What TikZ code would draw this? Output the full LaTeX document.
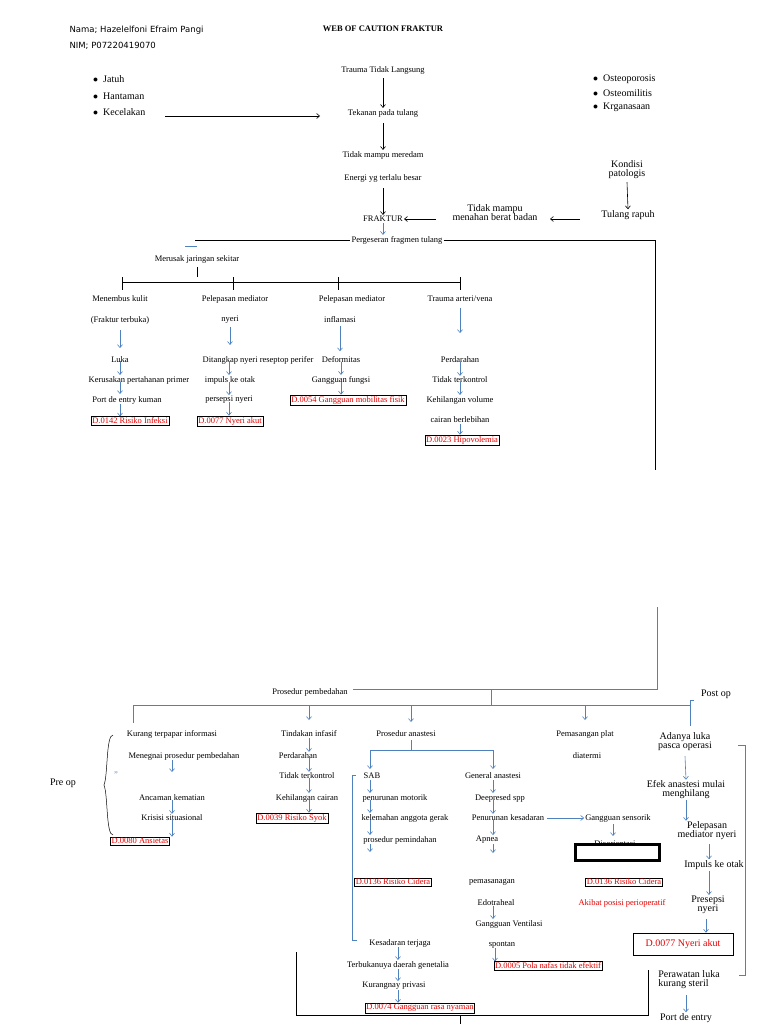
\documentclass[tikz,border=0pt]{standalone}
\usepackage{fontspec}
\setmainfont{Liberation Serif}
\newfontfamily\hdr{DejaVu Sans}
\usetikzlibrary{arrows.meta,decorations.pathreplacing}
\definecolor{bblue}{RGB}{79,129,189}
\definecolor{rred}{RGB}{230,0,0}
\tikzset{
 t/.style={font=\fontsize{8.5}{9}\selectfont, inner sep=1pt, align=center},
 tb/.style={font=\fontsize{10}{11}\selectfont, inner sep=1pt, align=center},
 rd/.style={t, text=rred},
 bx/.style={t, text=rred, draw=black, line width=0.6pt, inner sep=1.2pt},
 ba/.style={-{Straight Barb[length=3pt,width=5pt]}, draw=bblue, line width=0.6pt},
 ka/.style={-{Straight Barb[length=3pt,width=5pt]}, draw=black, line width=0.6pt},
 kl/.style={draw=black, line width=0.6pt},
 bl/.style={draw=bblue, line width=0.7pt},
}
\begin{document}
\begin{tikzpicture}[x=1pt,y=-1pt]
\useasboundingbox (0,0) rectangle (768,1024);
\fill[white] (0,0) rectangle (768,1024);
\node[anchor=west, font=\hdr\fontsize{8.5}{9}\selectfont] (nama) at (66,30) {Nama; Hazelelfoni Efraim Pangi};
\node[anchor=west, font=\hdr\fontsize{8.5}{9}\selectfont] (nim) at (66,46) {NIM; P07220419070};
\node[font=\bfseries\fontsize{8.5}{9}\selectfont] (title) at (383,29) {WEB OF CAUTION FRAKTUR};
\node[anchor=west, tb] (l1) at (92,79) {$\bullet$\ \ Jatuh};
\node[anchor=west, tb] (l2) at (92,96) {$\bullet$\ \ Hantaman};
\node[anchor=west, tb] (l3) at (92,112) {$\bullet$\ \ Kecelakan};
\coordinate (k0) at (165,116);
\coordinate (k1e) at (320,116);
\node[anchor=west, tb] (o1) at (592,79) {$\bullet$\ \ Osteoporosis};
\node[anchor=west, tb] (o2) at (592,93) {$\bullet$\ \ Osteomilitis};
\node[anchor=west, tb] (o3) at (592,107) {$\bullet$\ \ Krganasaan};
\node[t] (ttl) at (383,70) {Trauma Tidak Langsung};
\node[t] (tpt) at (383,113) {Tekanan pada tulang};
\node[t] (tmm) at (383,155) {Tidak mampu meredam};
\node[t] (eyb) at (383,178) {Energi yg terlalu besar};
\node[t] (frk) at (383,219) {FRAKTUR};
\node[tb] (tmb) at (495,213) {Tidak mampu\\[-2pt]menahan berat badan};
\node[tb] (kp) at (627,170) {Kondisi\\[-2pt]patologis};
\node[tb] (tr) at (628,215) {Tulang rapuh};
\node[t] (pft) at (397,240) {Pergeseran fragmen tulang};
\draw[ka] (k0) -- (k1e);
\draw[ka] (ttl.south) ++(0,3) -- (tpt.north);
\draw[ka] (tpt.south) ++(0,5) -- (tmm.north);
\draw[ka] (eyb.south) ++(0,5) -- (frk.north);
\draw[ka] (436,219) -- (frk.east);
\draw[ka] (580,219) -- (550,219);
\draw[ka] (kp.south) ++(0,2) -- (tr.north);
\draw[ba] (frk.south -| 383,0) -- (pft.north -| 383,0);
\coordinate (pr) at (655,240);
\coordinate (pr2) at (655,470);
\draw[kl] (195,240) -- (pft.west);
\draw[kl] (pft.east) -- (pr) -- (pr2);
\draw[bl] (185,246) -- (197,246);
\node[t] (mjs) at (197,259) {Merusak jaringan sekitar};
\coordinate (h0) at (197,277);
\draw[kl] (mjs.south) ++(0,3) -- (h0);
\draw[kl] (122,282) -- (460,282);
\foreach \x in {122,233,338,460} \draw[kl] (\x,277) -- (\x,290);
\node[t] (m1) at (120,299) {Menembus kulit};
\node[t] (m2) at (120,320) {(Fraktur terbuka)};
\node[t] (m3) at (120,360) {Luka};
\node[t] (m4) at (139,380) {Kerusakan pertahanan  primer};
\node[t] (m5) at (127,400) {Port de entry kuman};
\node[bx] (m6) at (130,421) {D.0142 Risiko Infeksi};
\draw[ba] (m2.south) ++(0,5) -- ++(0,18);
\draw[ba] (m3.south) ++(0,-3) -- (m3.south |- m4.north);
\draw[ba] (m4.south) ++(-19,-3) -- (120,394);
\draw[ba] (120,404) -- (m6.north -| 120,0);
\node[t] (n1) at (235,299) {Pelepasan mediator};
\node[t] (n2) at (230,320) {nyeri};
\node[t] (n3) at (258,360) {Ditangkap nyeri reseptop perifer};
\node[t] (n4) at (230,380) {impuls ke otak};
\node[t] (n5) at (229,400) {persepsi nyeri};
\node[bx] (n6) at (230,421) {D.0077 Nyeri akut};
\draw[ba] (n2.south) ++(0,2) -- ++(0,18);
\draw[ba] (229,362) -- (n4.north -| 229,0);
\draw[ba] (229,382) -- (n5.north -| 229,0);
\draw[ba] (229,402) -- (n6.north -| 229,0);
\node[t] (p1) at (352,299) {Pelepasan mediator};
\node[t] (p2) at (340,320) {inflamasi};
\node[t] (p3) at (341,360) {Deformitas};
\node[t] (p4) at (341,380) {Gangguan fungsi};
\node[bx] (p5) at (348,400) {D.0054  Gangguan mobilitas fisik};
\draw[ba] (p2.south) ++(0,2) -- ++(0,25);
\draw[ba] (341,362) -- (p4.north -| 341,0);
\draw[ba] (341,382) -- (p5.north -| 341,0);
\node[t] (q1) at (460,299) {Trauma arteri/vena};
\node[t] (q2) at (460,360) {Perdarahan};
\node[t] (q3) at (460,380) {Tidak terkontrol};
\node[t] (q4) at (460,400) {Kehilangan volume};
\node[t] (q5) at (460,420) {cairan berlebihan};
\node[bx] (q6) at (462,440) {D.0023 Hipovolemia};
\draw[ba] (q1.south) ++(0,5) -- ++(0,25);
\draw[ba] (460,362) -- (q3.north -| 460,0);
\draw[ba] (460,382) -- (q4.north -| 460,0);
\draw[ba] (460,424) -- (q6.north -| 460,0);
\node[t] (pp) at (310,692) {Prosedur pembedahan};
\coordinate (c1) at (657,607);
\draw[bl] (pp.east) ++(4,-3) -- (657,689) -- (c1);
\draw[bl] (491,689) -- (491,705);
\draw[bl] (133,705) -- (690,705);
\node[tb] (po) at (716,694) {Post op};
\draw[bl] (694,700) -- (690,700) -- (690,726);
\draw[bl] (133,705) -- (133,723);
\draw[ba] (309,705) -- (309,720);
\draw[ba] (411,705) -- (411,722);
\draw[ba] (585,705) -- (585,720);
\node[tb] (pre) at (63,783) {Pre op};
\draw[line width=0.5pt] (113,735) .. controls (106,735) and (108,775) .. (104,785) .. controls (108,795) and (106,835) .. (113,835);
\node[t, text=bblue] (tick) at (116,775) {''};
\node[t] (a1) at (172,734) {Kurang terpapar informasi};
\node[t] (a2) at (184,756) {Menegnai prosedur pembedahan};
\node[t] (a3) at (172,798) {Ancaman kematian};
\node[t] (a4) at (172,818) {Krisisi situasional};
\node[bx] (a5) at (140,841) {D.0080 Ansietas};
\draw[ba] (172,760) -- (172,772);
\draw[ba] (172,800) -- (a4.north -| 172,0);
\draw[ba] (172,820) -- (a5.north -| 172,0);
\node[t] (b1) at (309,734) {Tindakan infasif};
\node[t] (b2) at (298,756) {Perdarahan};
\node[t] (b3) at (307,776) {Tidak terkontrol};
\node[t] (b4) at (307,798) {Kehilangan cairan};
\node[bx] (b5) at (292,818) {D.0039 Risiko Syok};
\draw[ba] (309,738) -- (b2.north -| 309,0);
\draw[ba] (309,758) -- (b3.north -| 309,0);
\draw[ba] (309,778) -- (b4.north -| 309,0);
\draw[ba] (309,800) -- (b5.north -| 309,0);
\node[t] (c0) at (406,734) {Prosedur anastesi};
\draw[bl] (411,740) -- (411,750);
\draw[bl] (370,750) -- (493,750);
\draw[ba] (370,750) -- (370,769);
\draw[ba] (493,750) -- (493,769);
\draw[bl] (356,775) -- (352,775) -- (352,940) -- (357,940);
\node[t] (s1) at (372,776) {SAB};
\node[t] (s2) at (395,798) {penurunan motorik};
\node[t] (s3) at (405,818) {kelemahan anggota gerak};
\node[t] (s4) at (400,840) {prosedur pemindahan};
\node[bx] (s5) at (393,882) {D.0136 Risiko Cidera};
\draw[ba] (370,780) -- (s2.north -| 370,0);
\draw[ba] (370,800) -- (s3.north -| 370,0);
\draw[ba] (370,820) -- (s4.north -| 370,0);
\draw[ba] (370,844) -- (370,852);
\node[t] (g1) at (493,776) {General anastesi};
\node[t] (g2) at (500,798) {Deepresed spp};
\node[t] (g3) at (508,818) {Penurunan kesadaran};
\node[t] (g4) at (487,840) {Apnea};
\node[t] (g5) at (492,882) {pemasanagan};
\node[t] (g6) at (496,903) {Edotraheal};
\node[t] (g7) at (509,924) {Gangguan Ventilasi};
\node[t] (g8) at (502,945) {spontan};
\node[bx] (g9) at (548,966) {D.0005 Pola nafas tidak efektif};
\draw[ba] (493,780) -- (g2.north -| 493,0);
\draw[ba] (493,800) -- (g3.north -| 493,0);
\draw[ba] (493,820) -- (g4.north -| 493,0);
\draw[ba] (493,844) -- (493,853);
\draw[ba] (493,906) -- (g7.north -| 493,0);
\draw[ba] (495,948) -- (g9.north -| 495,0);
\node[t] (gs) at (618,818) {Gangguan sensorik};
\draw[ba] (g3.east) ++(2,0) -- (gs.west);
\node[t] (ds) at (615,844) {Disorientasi};
\draw[ba] (613,824) -- (613,836);
\node[draw=black, fill=white, line width=3pt, minimum width=84pt, minimum height=16pt] (blk) at (617,852) {};
\node[bx] (x1) at (624,882) {D.0136 Risiko Cidera};
\node[rd] (x2) at (622,903) {Akibat posisi perioperatif};
\node[t] (e1) at (585,734) {Pemasangan plat};
\node[t] (e2) at (587,756) {diatermi};
\node[tb] (f1) at (685,742) {Adanya luka\\[-2pt]pasca operasi};
\node[tb] (f2) at (686,790) {Efek anastesi mulai\\[-2pt]menghilang};
\node[tb] (f3) at (707,831) {Pelepasan\\[-2pt]mediator nyeri};
\node[tb] (f4) at (714,865) {Impuls ke otak};
\node[tb] (f5) at (708,905) {Presepsi\\[-2pt]nyeri};
\node[tb, text=rred, draw=black, line width=0.6pt, minimum width=100pt, minimum height=22pt] (f6) at (683,944) {D.0077 Nyeri akut};
\node[tb, align=left] (f7) at (689,980) {Perawatan luka\\[-2pt]kurang steril};
\node[tb] (f8) at (686,1018) {Port de entry};
\draw[ba] (f1.south) ++(0,4) -- (f2.north);
\draw[ba] (f2.south) -- (f3.north -| 686,0);
\draw[ba] (709,844) -- (f4.north -| 709,0);
\draw[ba] (709,871) -- (f5.north -| 709,0);
\draw[ba] (706,919) -- (f6.north -| 706,0);
\draw[ba] (686,995) -- (f8.north);
\draw[bl] (738,745) -- (745,745) -- (745,975) -- (739,975);
\node[t] (k1) at (400,943) {Kesadaran terjaga};
\node[t] (k2) at (398,965) {Terbukanuya daerah genetalia};
\node[t] (k3) at (394,986) {Kurangnay privasi};
\node[bx] (k4) at (420,1008) {D.0074  Gangguan rasa nyaman};
\draw[ba] (398,947) -- (k2.north -| 398,0);
\draw[ba] (398,969) -- (k3.north -| 398,0);
\draw[ba] (398,990) -- (k4.north -| 398,0);
\draw[kl] (296,952) -- (296,1015) -- (648,1015) -- (648,970);
\coordinate (bt) at (460,1024);
\draw[kl] (460,1015) -- (bt);
\end{tikzpicture}
\end{document}
